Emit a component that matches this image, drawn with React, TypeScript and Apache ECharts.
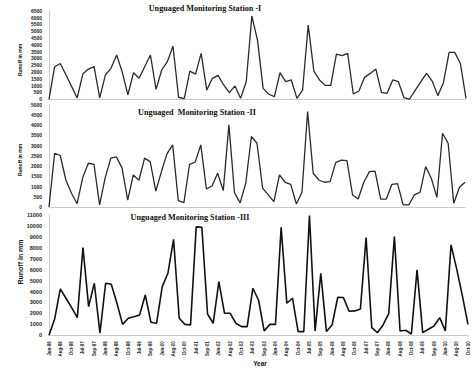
import React, { useEffect, useRef } from "react";
import * as echarts from "echarts";

const MONTHS = ["Jun", "Jul", "Aug", "Sep", "Oct"];
const YEARS = ["96", "97", "98", "99", "00", "01", "02", "03", "04", "05", "06", "07", "08", "09", "10"];
const CATEGORIES = YEARS.flatMap((y) => MONTHS.map((m) => `${m}-${y}`));

const TITLES = [
  "Unguaged Monitoring Station -I",
  "Unguaged  Monitoring Station -II",
  "Unguaged Monitoring Station -III",
];
const Y_NAME = "Runoff in mm";
const X_NAME = "Year";

const STATION_I = [
  0, 2390, 2630, 1800, 950, 100, 1850, 2220, 2390, 100,
  1780, 2270, 3250, 2000, 320, 1950, 1540, 2400, 3250, 730,
  2150, 2760, 3900, 150, 50, 2070, 1850, 3370, 680, 1540,
  1760, 1050, 490, 980, 70, 1290, 6100, 4340, 800, 370,
  200, 1950, 1290, 1420, 70, 680, 5440, 2070, 1420, 1020,
  1020, 3320, 3200, 3370, 390, 610, 1610, 1900, 2220, 510,
  440, 1420, 1290, 120, 20, 680, 1290, 1900, 1340, 270,
  1220, 3440, 3440, 2630, 70,
];

const STATION_II = [
  0, 2630, 2520, 1320, 670, 160, 1440, 2140, 2090, 100,
  1440, 2390, 2450, 1900, 340, 1570, 1310, 2390, 2220, 780,
  1730, 2610, 3040, 310, 210, 2090, 2190, 3040, 880, 1030,
  1650, 800, 4020, 700, 200, 1160, 3450, 3120, 920, 590,
  260, 1570, 1210, 1110, 150, 720, 4670, 1650, 1320, 1210,
  1240, 2170, 2290, 2270, 590, 390, 1210, 1730, 1760, 390,
  390, 1110, 1140, 100, 100, 590, 720, 1980, 1410, 470,
  3610, 3120, 180, 950, 1210,
];

const STATION_III = [
  0, 1500, 4240, 3390, 2530, 1620, 8020, 2620, 4760, 200,
  4760, 4670, 2930, 1000, 1560, 1700, 1860, 3690, 1190, 1100,
  4450, 5670, 8780, 1560, 1000, 950, 9910, 9880, 1950, 1100,
  4910, 2010, 2010, 1100, 790, 790, 4300, 3230, 400, 1000,
  1000, 9880, 2930, 3390, 340, 340, 10950, 400, 5670, 340,
  950, 3480, 3450, 2200, 2230, 2410, 8940, 700, 240, 950,
  1980, 9030, 400, 460, 120, 5980, 240, 550, 850, 1620,
  400, 8270, 6070, 3630, 1000,
];

const Y_MAX = [6500, 5000, 11000];
const Y_STEP = [500, 500, 1000];

export default function App() {
  const ref = useRef<HTMLDivElement>(null);

  useEffect(() => {
    if (!ref.current) return;
    const chart = echarts.init(ref.current, null, { renderer: "svg" });
    const grids = [
      { left: 49, width: 417, top: 10.7, height: 88.6 },
      { left: 49, width: 416, top: 104.8, height: 102.2 },
      { left: 49, width: 419, top: 215, height: 120.3 },
    ];
    const series = [STATION_I, STATION_II, STATION_III];
    const sans = "Liberation Sans";
    const serif = "Liberation Serif";
    const titlePos = [
      { x: 205, y: 8.5 },
      { x: 197, y: 112.5 },
      { x: 190, y: 217.5 },
    ];
    const yNamePos = [
      { x: 20, y: 60, size: 5 },
      { x: 20, y: 160, size: 5 },
      { x: 20, y: 262, size: 7 },
    ];

    chart.setOption({
      animation: false,
      backgroundColor: "#ffffff",
      grid: grids,
      xAxis: grids.map((_, i) => ({
        type: "category",
        gridIndex: i,
        data: CATEGORIES,
        boundaryGap: false,
        axisLine: { show: true, lineStyle: { color: "#c8c8c8", width: 1 } },
        axisTick: { show: false },
        axisLabel:
          i === 2
            ? {
                show: true,
                interval: 1,
                rotate: 90,
                fontSize: 4.5,
                fontFamily: sans,
                fontWeight: "bold",
                color: "#222",
                margin: 6,
              }
            : { show: false },
        splitLine: { show: false },
      })),
      yAxis: grids.map((_, i) => ({
        type: "value",
        gridIndex: i,
        min: 0,
        max: Y_MAX[i],
        interval: Y_STEP[i],
        axisLine: { show: true, lineStyle: { color: "#c8c8c8", width: 1 } },
        axisTick: { show: false },
        splitLine: { show: false },
        axisLabel: {
          fontSize: i === 2 ? 5.5 : 5,
          fontFamily: sans,
          fontWeight: "bold",
          color: "#222",
          margin: 7,
          formatter: (v: number) => String(v),
        },
      })),
      series: series.map((d, i) => ({
        type: "line",
        xAxisIndex: i,
        yAxisIndex: i,
        data: d,
        symbol: "none",
        lineStyle: { color: i === 2 ? "#111" : "#2a2a2a", width: i === 2 ? 1.6 : 1.3 },
      })),
      graphic: [
        ...TITLES.map((t, i) => ({
          type: "text",
          x: titlePos[i].x,
          y: titlePos[i].y,
          style: {
            text: t,
            fontFamily: serif,
            fontWeight: "bold",
            fontSize: 8.2,
            fill: "#111",
            textAlign: "center",
            textVerticalAlign: "middle",
          },
        })),
        ...yNamePos.map((p) => ({
          type: "text",
          x: p.x,
          y: p.y,
          rotation: Math.PI / 2,
          style: {
            text: Y_NAME,
            fontFamily: sans,
            fontWeight: "bold",
            fontSize: p.size,
            fill: "#111",
            textAlign: "center",
            textVerticalAlign: "middle",
          },
        })),
        {
          type: "text",
          x: 260,
          y: 363,
          style: {
            text: X_NAME,
            fontFamily: sans,
            fontWeight: "bold",
            fontSize: 6.5,
            fill: "#111",
            textAlign: "center",
            textVerticalAlign: "middle",
          },
        },
      ],
    });
    return () => chart.dispose();
  }, []);

  return (
    <div
      ref={ref}
      style={{ position: "fixed", left: 0, top: 0, width: 474, height: 369, background: "#fff" }}
    />
  );
}
